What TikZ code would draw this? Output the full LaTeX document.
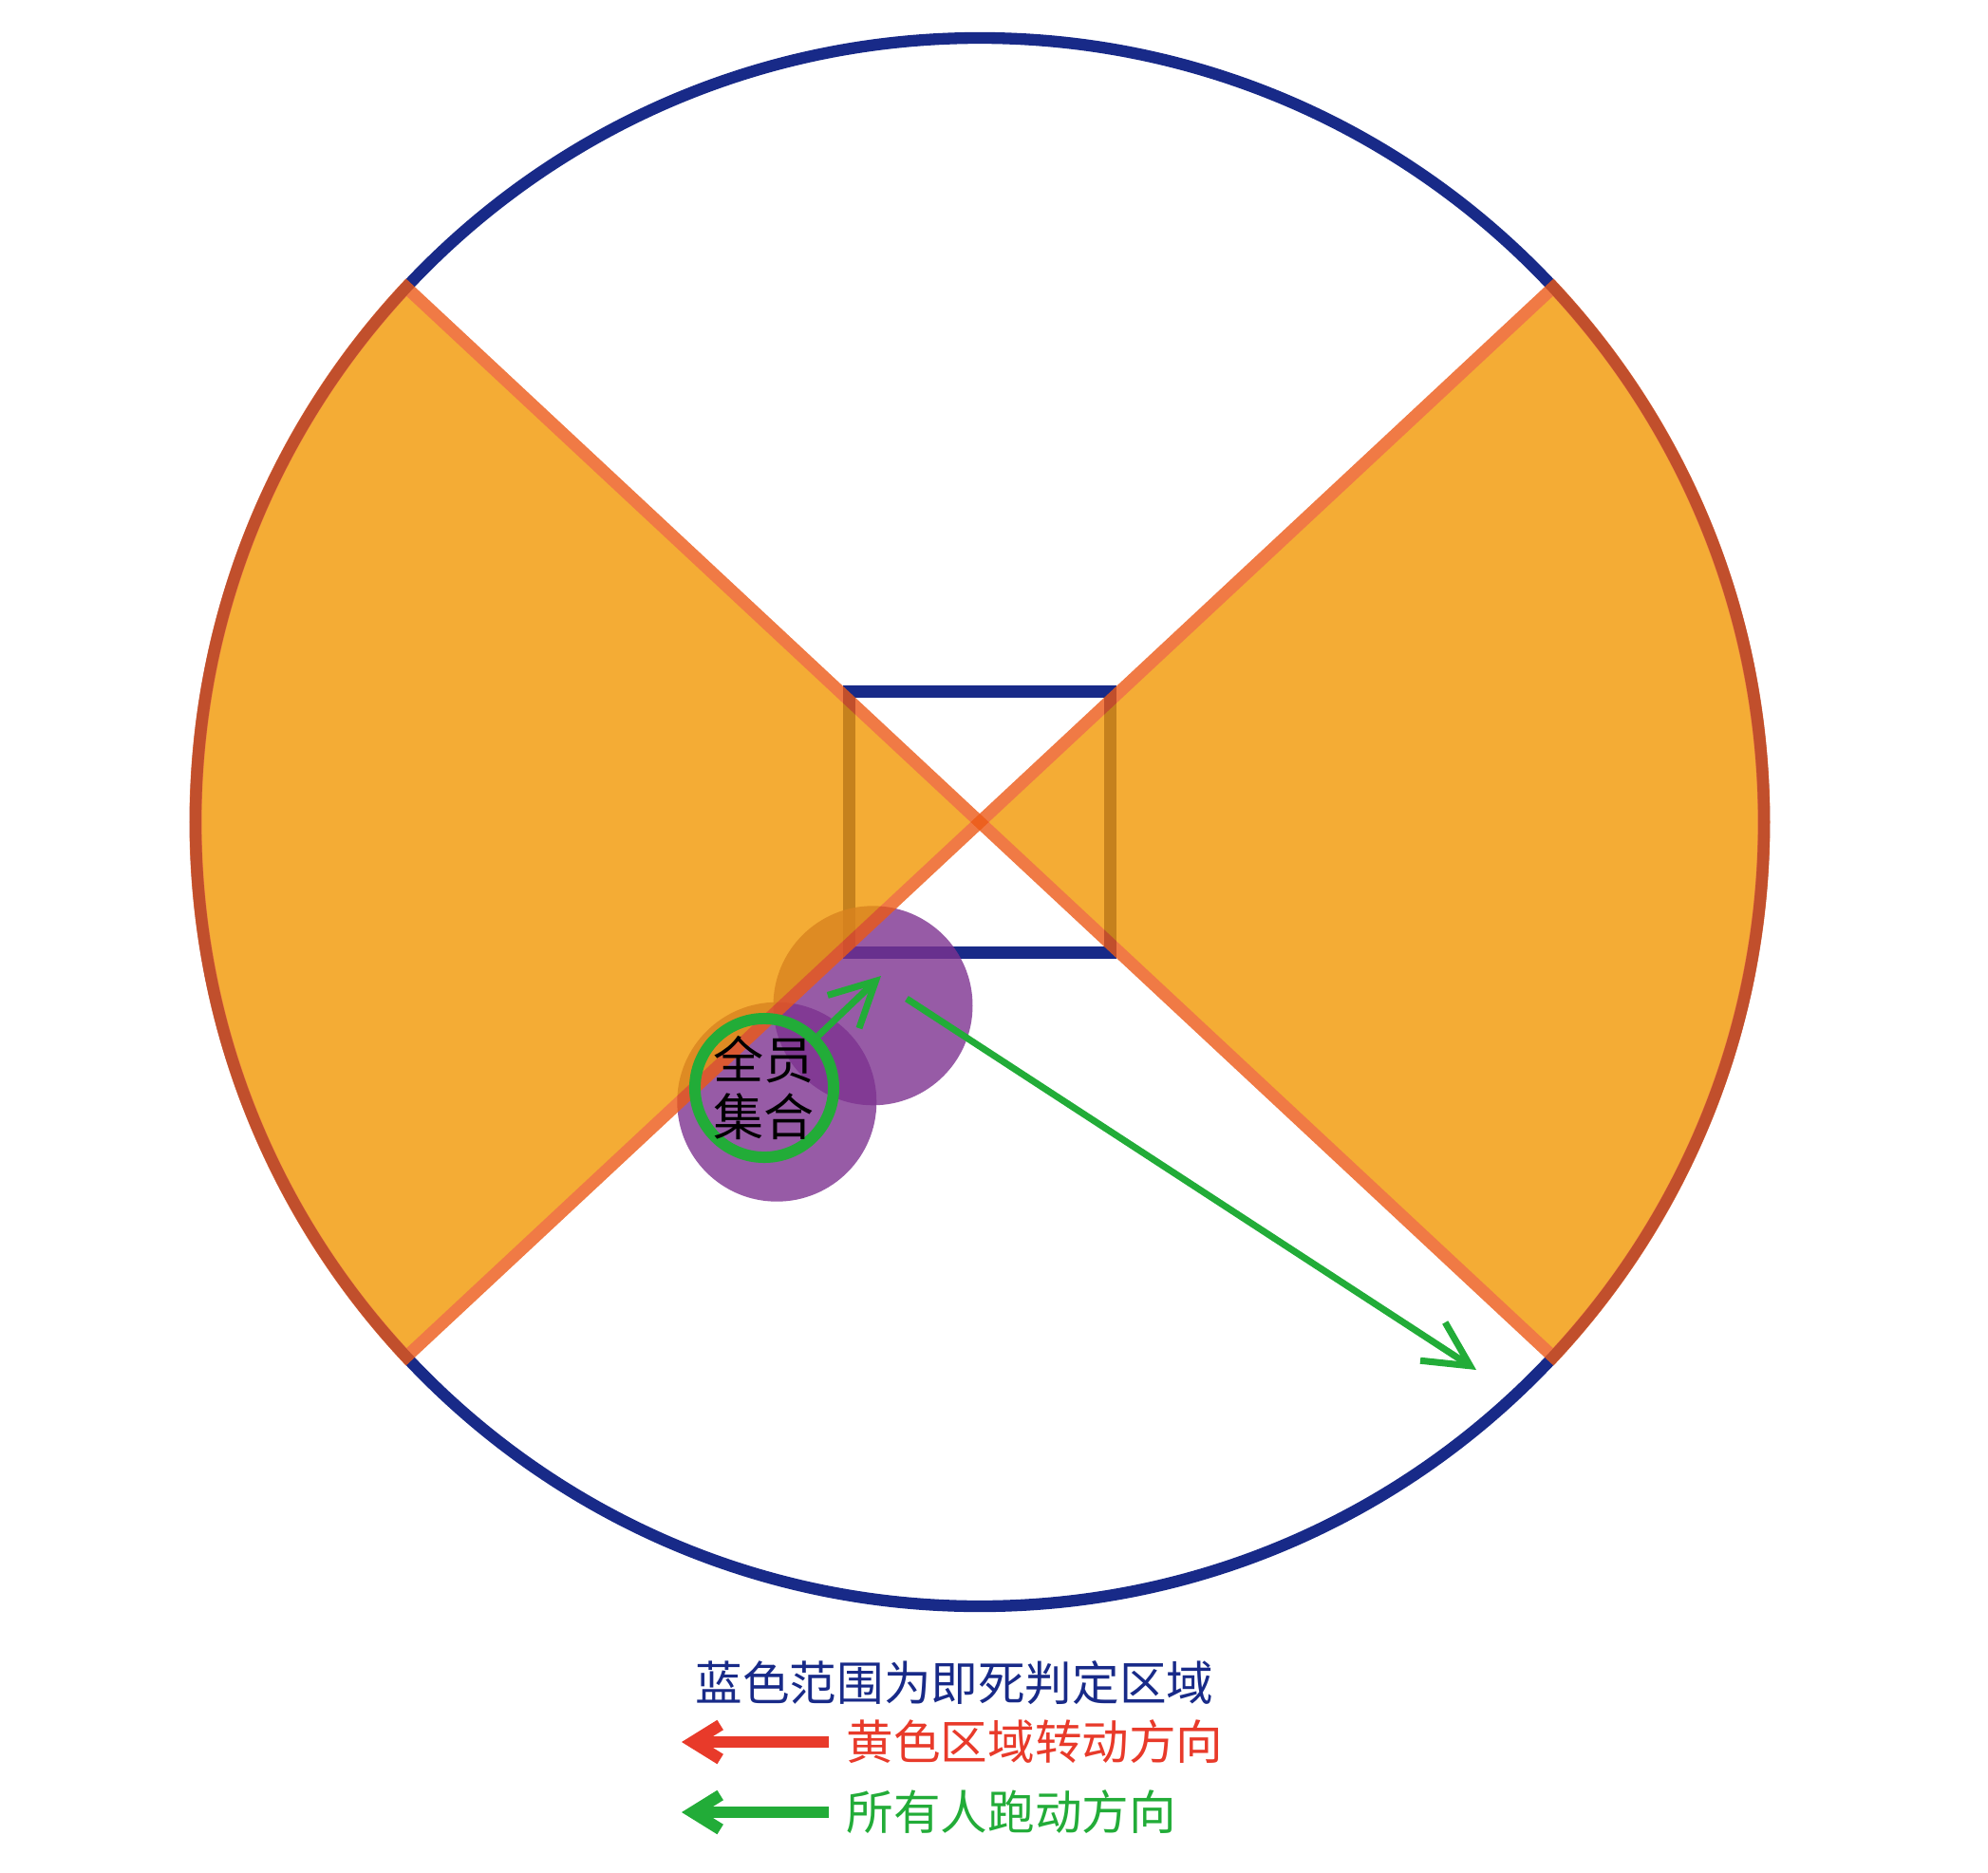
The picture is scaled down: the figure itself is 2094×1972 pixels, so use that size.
\documentclass[tikz,border=0pt]{standalone}
\usepackage{fontspec}
\usetikzlibrary{arrows.meta}
\newfontfamily\cjk{Noto Sans CJK SC}
\definecolor{deathblue}{RGB}{24,42,136}
\definecolor{zonefill}{RGB}{241,151,3}
\definecolor{zoneedge}{RGB}{236,89,22}
\definecolor{crowdpurple}{RGB}{125,50,144}
\definecolor{rungreen}{RGB}{34,172,56}
\definecolor{turnred}{RGB}{232,58,42}
\begin{document}
\begin{tikzpicture}[x=0.01cm, y=0.01cm,
		blueline/.style={draw=deathblue, line width=3.5pt},
		yellowzone/.style={fill=zonefill, draw=zoneedge, line width=3.7pt},
		playerdot/.style={fill=crowdpurple, fill opacity=0.8},
		meetring/.style={circle, draw=rungreen, line width=3.4pt, minimum size=1.46cm, inner sep=0pt},
		runarrow/.style={-{Straight Barb[length=4.7mm, width=4.8mm]}, draw=rungreen, line width=2pt},
		legendarrow/.style={-{Straight Barb[length=2.9mm, width=3.6mm]}, line width=3.5pt},
		legendtext/.style={anchor=west, inner sep=0pt, font=\cjk\fontsize{14.1}{16}\selectfont}]
		\useasboundingbox (-1032,-1106) rectangle (1062,866);
		\coordinate (hub) at (0,0);

		% Death zone: outer ring and inner square
		\draw[blueline] (hub) circle (826);
		\draw[blueline] (-137.5,-137.5) rectangle (137.5,137.5);

		% Players
		\fill[playerdot] (-112.5,-193.3) circle (105);
		\fill[playerdot] (-213.7,-294.7) circle (105);

		% Macro for one rotating yellow zone.
		% Usage: \drawzone{start angle}{end angle}
		\newcommand{\drawzone}[2]{
			\begin{scope}[transparency group, opacity=0.8]
				\draw[yellowzone] (hub) -- (#1:826) arc[start angle=#1, end angle=#2, radius=826] -- cycle;
			\end{scope}
		}
		\drawzone{137}{223}
		\drawzone{-43}{43}

		% Meeting point and running directions
		\node[meetring] (meet) at (-227,-280) {};
		\node[font=\cjk\fontsize{15.1}{17.1}\selectfont, align=center, inner sep=0pt] (meettext) at (meet.center) {全员\\集合};
		\coordinate (smalltip) at (-104,-162);
		\coordinate (runstart) at (-77,-186);
		\coordinate (runtip) at (523,-577);
		\draw[runarrow] (meet.44) -- (smalltip);
		\draw[runarrow] (runstart) -- (runtip);

		% Legend
		\node[font=\cjk\fontsize{14.1}{16}\selectfont, text=deathblue, inner sep=0pt] (note) at (-26.5,-906.5) {蓝色范围为即死判定区域};

		% Macro for a legend row.
		% Usage: \legendrow{y}{colour}{name}{text}
		\newcommand{\legendrow}[4]{
			\coordinate (#3tail) at (-159,#1);
			\coordinate (#3tip) at (-314,#1);
			\draw[legendarrow, draw=#2] (#3tail) -- (#3tip);
			\node[legendtext, text=#2] (#3) at (-141,#1) {#4};
		}
		\legendrow{-969}{turnred}{turn}{黄色区域转动方向}
		\legendrow{-1043}{rungreen}{run}{所有人跑动方向}
	\end{tikzpicture}
\end{document}
